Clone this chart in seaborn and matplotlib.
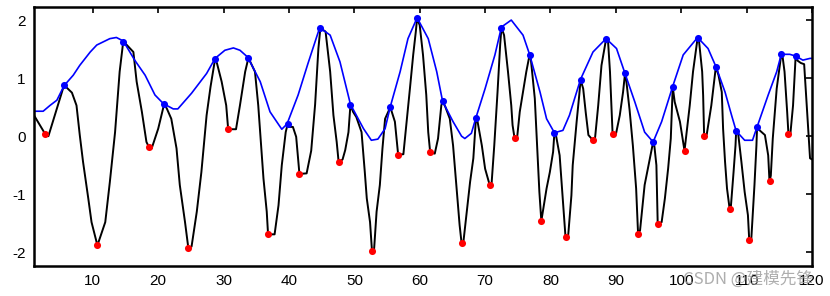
import numpy as np
import pandas as pd
import matplotlib
matplotlib.use("Agg")
import matplotlib.pyplot as plt
import seaborn as sns

# ---- signal (black line) ----
sig_x = [1.0, 2.7, 3.2, 5.6, 6.8, 7.5, 8.0, 8.5, 9.3, 9.8, 10.7, 11.9, 12.6, 13.4, 14.1, 14.65, 15.2, 16.2,
         16.7, 17.5, 18.2, 18.6, 19.0, 20.0, 20.9, 21.3, 22.0, 22.8, 23.3, 24.1, 24.6, 25.1, 25.9, 26.6,
         27.4, 28.0, 28.7, 29.0, 29.7, 30.4, 30.7, 31.9, 32.5, 33.3, 33.8, 34.0, 34.8, 35.3, 35.8, 36.1,
         36.6, 36.8, 37.8, 38.4, 38.9, 39.5, 39.8, 40.0, 40.6, 41.1, 41.6, 42.7, 43.4, 44.0, 44.5, 44.8,
         45.6, 46.3, 46.8, 47.3, 47.6, 48.2, 48.6, 49.1, 49.4, 49.8, 50.3, 51.1, 51.6, 51.9, 52.4, 52.7,
         53.0, 53.4, 53.9, 54.3, 54.7, 55.5, 56.2, 56.7, 57.5, 58.0, 58.5, 59.0, 59.4, 59.6, 60.0, 60.5,
         61.0, 61.3, 61.6, 62.3, 62.8, 63.3, 63.5, 63.9, 64.6, 65.1, 65.6, 66.1, 66.4, 66.7, 67.3, 67.7,
         68.2, 68.6, 68.8, 69.5, 70.0, 70.7, 71.0, 71.4, 71.9, 72.3, 72.5, 72.9, 73.5, 74.0, 74.2, 74.5,
         74.9, 75.3, 75.8, 76.3, 76.8, 77.0, 77.6, 78.0, 78.3, 78.6, 79.4, 79.9, 80.4, 80.6, 80.8, 81.4,
         81.8, 82.1, 82.3, 82.7, 83.2, 83.4, 84.0, 84.4, 84.6, 85.0, 85.4, 85.8, 86.5, 86.8, 87.3, 87.8,
         88.5, 88.8, 89.1, 89.3, 89.5, 90.0, 90.6, 91.1, 91.4, 91.6, 92.1, 92.6, 93.1, 93.4, 93.7, 94.4,
         95.2, 95.7, 95.9, 96.2, 96.4, 97.0, 97.5, 98.0, 98.4, 98.7, 99.0, 99.8, 100.5, 101.3, 101.8,
         102.5, 102.7, 103.2, 103.35, 103.5, 103.9, 104.6, 105.3, 105.7, 106.2, 106.4, 106.7, 107.0,
         107.4, 107.6, 108.0, 108.3, 108.4, 108.7, 109.2, 109.7, 110.2, 110.4, 110.7, 111.2, 111.5,
         111.6, 112.0, 112.8, 113.3, 113.5, 113.7, 114.0, 114.6, 115.3, 115.5, 115.8, 116.2, 116.4,
         116.7, 117.1, 117.5, 117.8, 118.3, 118.8, 119.2, 119.7, 120.0]
sig_y = [0.36, 0.04, 0.0, 0.88, 0.75, 0.53, 0.02, -0.44, -1.07, -1.48, -1.88, -1.48, -0.79, 0.07, 1.11, 1.63,
         1.57, 1.45, 0.94, 0.42, -0.10, -0.19, -0.21, 0.13, 0.55, 0.48, 0.30, -0.21, -0.84, -1.48,
         -1.92, -1.90, -1.30, -0.62, 0.36, 0.85, 1.33, 1.25, 0.94, 0.53, 0.12, 0.12, 0.53, 1.11, 1.35,
         1.30, 1.11, 0.53, -0.27, -0.73, -1.30, -1.69, -1.69, -1.19, -0.50, 0.07, 0.21, 0.16, 0.16,
         -0.01, -0.65, -0.64, -0.25, 0.55, 1.51, 1.86, 1.80, 1.11, 0.36, -0.10, -0.45, -0.40, -0.24,
         0.07, 0.54, 0.42, 0.33, 0.07, -0.62, -1.07, -1.48, -1.98, -1.98, -1.30, -0.84, -0.21, 0.30,
         0.50, 0.25, -0.32, -0.31, 0.25, 0.82, 1.40, 1.80, 2.03, 1.91, 1.40, 0.71, 0.07, -0.28, -0.30,
         -0.04, 0.53, 0.60, 0.51, 0.30, -0.16, -0.84, -1.53, -1.84, -1.80, -1.19, -0.79, -0.38, 0.31,
         0.28, -0.16, -0.56, -0.84, -0.80, -0.16, 0.76, 1.57, 1.87, 1.74, 1.11, 0.53, 0.19, -0.03, -0.02,
         0.42, 0.76, 1.11, 1.40, 1.32, 0.65, -0.27, -0.96, -1.46, -0.90, -0.62, -0.27, 0.06, 0.04, -0.33,
         -0.96, -1.42, -1.74, -1.72, -1.02, -0.50, 0.25, 0.71, 0.97, 0.82, 0.40, 0.02, -0.07, -0.05,
         0.53, 1.22, 1.67, 1.64, 1.11, 0.59, 0.04, 0.03, 0.36, 0.76, 1.08, 0.95, 0.45, -0.16, -0.90,
         -1.69, -1.62, -0.84, -0.38, -0.10, -0.18, -0.50, -1.51, -1.48, -1.07, -0.55, -0.04, 0.85, 0.59,
         0.25, -0.25, 0.53, 1.11, 1.69, 1.66, 1.11, 0.70, 0.01, 0.03, 0.53, 1.20, 1.05, 0.76, 0.13, -0.44,
         -0.90, -1.25, -1.20, -0.62, -0.16, 0.09, 0.05, -0.44, -0.96, -1.36, -1.79, -1.80, -0.84, -0.16,
         0.16, 0.10, 0.02, -0.33, -0.78, -0.68, -0.04, 0.82, 1.41, 1.37, 1.11, 0.42, 0.03, 0.05, 0.53,
         1.38, 1.30, 1.26, 1.24, 0.53, -0.38, -0.40]

# ---- upper envelope (blue line) ----
env_x = [1.0, 2.4, 3.45, 4.5, 5.6, 7.0, 8.0, 9.6, 10.6, 12.6, 13.6, 14.65, 16.4, 18.0, 19.5, 20.8, 22.3,
         23.0, 25.1, 27.4, 28.7, 30.2, 31.5, 32.5, 33.7, 35.6, 37.1, 38.9, 39.7, 41.4, 42.9, 44.7, 46.3,
         47.8, 49.4, 51.4, 52.6, 53.6, 54.7, 55.5, 57.0, 58.2, 59.6, 61.3, 62.6, 63.5, 65.1, 66.4, 66.9,
         67.9, 68.6, 70.0, 71.5, 72.5, 74.0, 75.8, 76.8, 78.4, 79.4, 80.6, 81.9, 82.9, 84.6, 86.5, 88.5,
         90.1, 91.4, 92.9, 94.4, 95.7, 97.0, 98.7, 100.3, 102.5, 104.1, 105.3, 106.7, 107.7, 108.4,
         109.7, 110.9, 111.6, 113.3, 114.6, 115.3, 116.6, 117.5, 118.6, 119.7, 120.0]
env_y = [0.43, 0.43, 0.53, 0.62, 0.87, 1.05, 1.22, 1.45, 1.57, 1.68, 1.70, 1.64, 1.31, 1.05, 0.71, 0.56,
         0.47, 0.47, 0.74, 1.08, 1.34, 1.48, 1.52, 1.48, 1.36, 0.94, 0.42, 0.12, 0.21, 0.71, 1.25, 1.87,
         1.74, 1.28, 0.55, 0.13, -0.07, -0.05, 0.13, 0.51, 1.11, 1.68, 2.04, 1.68, 1.11, 0.60, 0.25,
         0.00, -0.04, 0.05, 0.32, 0.82, 1.40, 1.88, 2.00, 1.74, 1.41, 0.76, 0.30, 0.06, 0.10, 0.36,
         0.98, 1.45, 1.68, 1.51, 1.08, 0.59, 0.07, -0.10, 0.25, 0.86, 1.40, 1.70, 1.51, 1.20, 0.76, 0.36,
         0.09, -0.07, -0.07, 0.16, 0.71, 1.11, 1.41, 1.41, 1.38, 1.31, 1.34, 1.34]

# ---- local maxima (blue markers) ----
max_x = [5.6, 14.65, 20.9, 28.7, 33.8, 39.8, 44.8, 49.4, 55.5, 59.6, 63.5, 68.6, 72.5, 76.8, 80.6,
         84.6, 88.5, 91.4, 95.7, 98.7, 102.5, 105.3, 108.4, 111.6, 115.3, 117.5]
max_y = [0.88, 1.63, 0.55, 1.33, 1.35, 0.21, 1.86, 0.54, 0.50, 2.03, 0.60, 0.31, 1.87, 1.40, 0.06,
         0.97, 1.67, 1.08, -0.10, 0.85, 1.69, 1.20, 0.09, 0.16, 1.41, 1.38]

# ---- local minima (red markers) ----
min_x = [2.7, 10.7, 18.6, 24.6, 30.7, 36.8, 41.6, 47.6, 52.7, 56.7, 61.6, 66.4, 70.7, 74.5, 78.6,
         82.3, 86.5, 89.5, 93.4, 96.4, 100.5, 103.5, 107.4, 110.4, 113.5, 116.4]
min_y = [0.04, -1.88, -0.19, -1.92, 0.12, -1.69, -0.65, -0.45, -1.98, -0.32, -0.28, -1.84, -0.84,
         -0.03, -1.46, -1.74, -0.07, 0.04, -1.69, -1.51, -0.25, 0.01, -1.25, -1.79, -0.78, 0.03]

x_ticks = [10, 20, 30, 40, 50, 60, 70, 80, 90, 100, 110, 120]
y_ticks = [-2, -1, 0, 1, 2]

sns.set_theme(style="white")
plt.rcParams['font.family'] = ['Liberation Sans', 'DejaVu Sans']

fig = plt.figure(figsize=(8.30, 2.96), dpi=100)
ax = fig.add_axes([34/830, 1-265.7/296, (812-34)/830, (265.7-6.7)/296])

sig = pd.DataFrame({"x": sig_x, "y": sig_y})
env = pd.DataFrame({"x": env_x, "y": env_y})
sns.lineplot(data=sig, x="x", y="y", color="black", lw=1.4, ax=ax, sort=False, estimator=None)
sns.lineplot(data=env, x="x", y="y", color="#0000ff", lw=1.2, ax=ax, sort=False, estimator=None)
sns.scatterplot(x=max_x, y=max_y, color="#0000ff", marker="o", s=26, linewidth=0, ax=ax, zorder=5)
sns.scatterplot(x=min_x, y=min_y, color="#ff0000", marker="o", s=26, linewidth=0, ax=ax, zorder=5)

ax.set_xlim(1, 120)
ax.set_ylim(-2.23, 2.23)
ax.set_xticks(x_ticks)
ax.set_yticks(y_ticks)
ax.set_xticklabels([str(t) for t in x_ticks])
ax.set_yticklabels([str(t) for t in y_ticks])
ax.set_xlabel("")
ax.set_ylabel("")
ax.tick_params(direction="in", length=4, width=1.2, top=True, right=True,
               labelsize=11, colors="black", pad=6)
for s in ax.spines.values():
    s.set_visible(True)
    s.set_color("black")
    s.set_linewidth(1.8)

fig.text(813/830, 1-279/296, "CSDN @建模先锋", ha="right", va="center", fontsize=12,
         color="#a0a0a0", alpha=0.85,
         family=['Noto Sans CJK SC', 'DejaVu Sans'])

fig.savefig("out.png", dpi=100)
